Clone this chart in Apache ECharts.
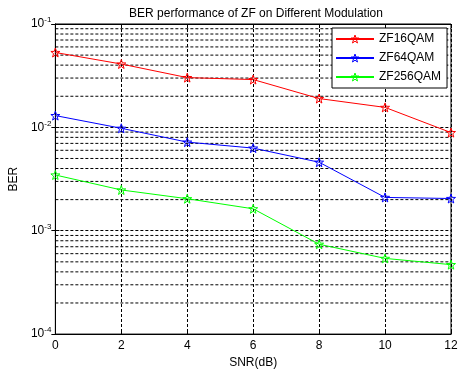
<!DOCTYPE html>
<html><head><meta charset="utf-8">
<script src="https://cdn.jsdelivr.net/npm/echarts@6/dist/echarts.min.js"></script>
<style>html,body{margin:0;padding:0;background:#fff}#c{width:474px;height:374px}</style>
</head><body><div id="c"></div>
<script>
const snr = [0, 2, 4, 6, 8, 10, 12];
const zf16 = [0.053, 0.041, 0.0303, 0.029, 0.019, 0.0156, 0.0089];
const zf64 = [0.0130, 0.0098, 0.0072, 0.0063, 0.0046, 0.0021, 0.00205];
const zf256 = [0.00346, 0.00248, 0.00204, 0.00163, 0.00074, 0.00054, 0.00047];
const seriesNames = ['ZF16QAM', 'ZF64QAM', 'ZF256QAM'];
const seriesColors = ['#ff0000', '#0000ff', '#00ff00'];
const decades = [1e-4, 1e-3, 1e-2];
const minorGrid = [];
decades.forEach(d => { for (let k = 2; k <= 9; k++) minorGrid.push(+(k * d).toPrecision(3)); });
const gridData = [];
minorGrid.forEach(v => { gridData.push([0, v], [12, v], [12, NaN]); });

const star = 'path://M0,-10 L2.35,-3.24 L9.51,-3.09 L3.8,1.24 L5.88,8.09 L0,4 L-5.88,8.09 L-3.8,1.24 L-9.51,-3.09 L-2.35,-3.24 Z';
const font = 'Liberation Sans, Arial, sans-serif';
const dash = [3, 2];

const chart = echarts.init(document.getElementById('c'));
const mk = (name, data, color) => ({
  name, type: 'line', data: snr.map((x, i) => [x, data[i]]),
  symbol: star, symbolSize: 9,
  lineStyle: { color, width: 1 },
  itemStyle: { color: 'rgba(255,255,255,0)', borderColor: color, borderWidth: 1 },
  z: 5
});
chart.setOption({
  backgroundColor: '#fff',
  animation: false,
  title: { text: 'BER performance of ZF on Different Modulation', left: 251, textAlign: 'center', top: 3,
    textStyle: { fontFamily: font, fontSize: 12, fontWeight: 'normal', color: '#000' } },
  grid: { left: 52, right: 23, top: 24, bottom: 38, show: true, borderColor: '#000', borderWidth: 1, backgroundColor: '#fff' },
  legend: {
    left: 332, top: 28, orient: 'vertical',
    data: seriesNames.map((n, i) => ({ name: n, itemStyle: { color: 'rgba(255,255,255,0)', borderColor: seriesColors[i], borderWidth: 1 } })),
    padding: [5, 6, 5, 3], itemGap: 7, itemWidth: 38, itemHeight: 10,
    backgroundColor: '#fff', borderColor: '#000', borderWidth: 1, borderRadius: 0,
    textStyle: { fontFamily: font, fontSize: 12, color: '#000' }
  },
  xAxis: [{
    type: 'value', min: 0, max: 12, interval: 2,
    name: 'SNR(dB)', nameLocation: 'middle', nameGap: 22,
    nameTextStyle: { fontFamily: font, fontSize: 12, color: '#000' },
    axisLine: { lineStyle: { color: '#000' } },
    axisTick: { inside: true, length: 4, lineStyle: { color: '#000' } },
    axisLabel: { fontFamily: font, fontSize: 12, color: '#000', margin: 6 },
    splitLine: { show: true, lineStyle: { color: '#000', type: dash, width: 1 } }
  }, {
    type: 'value', position: 'top', min: 0, max: 12, interval: 2,
    axisLine: { show: true, lineStyle: { color: '#000' } },
    axisTick: { inside: true, length: 4, lineStyle: { color: '#000' } },
    axisLabel: { show: false }, splitLine: { show: false }
  }],
  yAxis: [{
    type: 'log', logBase: 10, min: 1e-4, max: 1e-1,
    name: 'BER', nameLocation: 'middle', nameGap: 33,
    nameTextStyle: { fontFamily: font, fontSize: 12, color: '#000' },
    axisLine: { show: true, lineStyle: { color: '#000' } },
    axisTick: { show: true, inside: true, length: 4, lineStyle: { color: '#000' } },
    axisLabel: {
      fontFamily: font, color: '#000', margin: 4,
      formatter: v => '{b|10}{s|' + Math.round(Math.log10(v)) + '}',
      rich: { b: { fontSize: 12, fontFamily: font, color: '#000' },
              s: { fontSize: 8, fontFamily: font, color: '#000', verticalAlign: 'top', padding: [0, 0, 8, 0] } }
    },
    splitLine: { show: true, lineStyle: { color: '#000', type: dash, width: 1 } }
  }, {
    type: 'log', logBase: 10, min: 1e-4, max: 1e-1, position: 'right',
    axisLine: { show: true, lineStyle: { color: '#000' } },
    axisTick: { show: true, inside: true, length: 4, lineStyle: { color: '#000' } },
    axisLabel: { show: false }, splitLine: { show: false }
  }],
  series: [
    {
      name: 'minorgrid', type: 'line', data: gridData, silent: true, z: 1,
      symbol: 'none', connectNulls: false,
      lineStyle: { color: '#000', type: dash, width: 1 }
    },
    mk(seriesNames[0], zf16, seriesColors[0]),
    mk(seriesNames[1], zf64, seriesColors[1]),
    mk(seriesNames[2], zf256, seriesColors[2])
  ]
});
</script></body></html>
